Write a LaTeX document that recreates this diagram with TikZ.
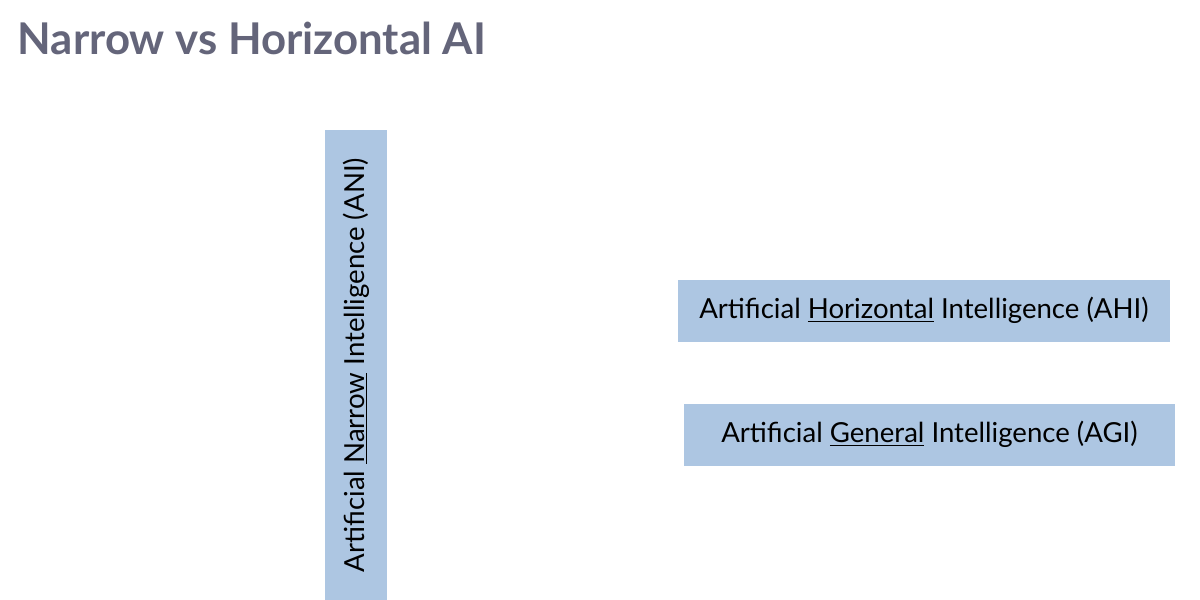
\documentclass[tikz,border=0pt]{standalone}
\usepackage{fontspec}
\setmainfont{Lato}
\definecolor{boxblue}{RGB}{173,198,226}
\definecolor{titlegray}{RGB}{100,101,122}
\begin{document}
\begin{tikzpicture}[x=0.75pt,y=-0.75pt,
  box/.style={fill=boxblue,draw=none,inner sep=0pt,font=\fontsize{20.7}{24}\selectfont,text=black}]
\useasboundingbox[fill=white] (0,0) rectangle (1200,600);
\node[anchor=base west,text=titlegray,font=\fontsize{32.8}{38}\selectfont\bfseries] (title) at (13,54) {Narrow vs Horizontal AI};
\node[box,minimum width=470*0.75pt,minimum height=62*0.75pt,rotate=90] (ani) at (356,365) {Artificial \underline{Narrow} Intelligence (ANI)};
\node[box,minimum width=492*0.75pt,minimum height=62*0.75pt] (ahi) at (924,310.5) {Artificial \underline{Horizontal} Intelligence (AHI)};
\node[box,minimum width=491*0.75pt,minimum height=62*0.75pt] (agi) at (929.5,434.5) {Artificial \underline{General} Intelligence (AGI)};
\end{tikzpicture}
\end{document}
